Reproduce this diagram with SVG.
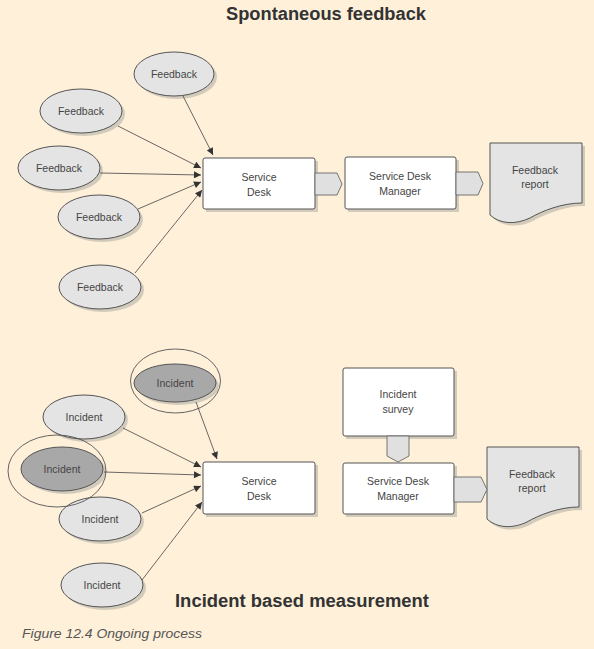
<svg xmlns="http://www.w3.org/2000/svg" width="594" height="649" viewBox="0 0 594 649">
<defs>
<marker id="ah" viewBox="0 0 10 10" refX="10" refY="5" markerWidth="8" markerHeight="7" markerUnits="userSpaceOnUse" orient="auto">
<path d="M0,0 L10,5 L0,10 Z" fill="#333"/>
</marker>
<style>
.bg{fill:#FEF0D9}
.ell{fill:#E4E4E4;stroke:#555;stroke-width:1}
.dark{fill:#A8A8A8;stroke:#555;stroke-width:1}
.ring{fill:none;stroke:#555;stroke-width:0.9}
.sh{fill:#BFB9AE;opacity:0.7}
.box{fill:#FFFFFF;stroke:#555;stroke-width:1}
.chev{fill:#E0E0E0;stroke:#666;stroke-width:0.9}
.doc{fill:#E4E4E4;stroke:#555;stroke-width:1}
.lbl{font-family:"Liberation Sans",Arial,sans-serif;font-size:10.5px;fill:#444;text-anchor:middle}
.ttl{font-family:"Liberation Sans",Arial,sans-serif;font-size:18px;font-weight:bold;fill:#333;text-anchor:middle}
.cap{font-family:"Liberation Sans",Arial,sans-serif;font-size:13px;font-style:italic;fill:#555}
.con{stroke:#444;stroke-width:0.8;fill:none;marker-end:url(#ah)}
</style>
</defs>
<rect class="bg" x="0" y="0" width="594" height="649"/>

<text class="ttl" x="326" y="20" textLength="200" lengthAdjust="spacingAndGlyphs">Spontaneous feedback</text>

<!-- Top section -->
<g id="fb1"><ellipse class="sh" cx="177" cy="77" rx="40" ry="22"/><ellipse class="ell" cx="174" cy="74" rx="40" ry="22"/><text class="lbl" x="174" y="78">Feedback</text></g>
<g id="fb2"><ellipse class="sh" cx="84" cy="114" rx="41" ry="22"/><ellipse class="ell" cx="81" cy="111" rx="41" ry="22"/><text class="lbl" x="81" y="115">Feedback</text></g>
<g id="fb3"><ellipse class="sh" cx="62" cy="171" rx="41" ry="22"/><ellipse class="ell" cx="59" cy="168" rx="41" ry="22"/><text class="lbl" x="59" y="172">Feedback</text></g>
<g id="fb4"><ellipse class="sh" cx="102" cy="220" rx="41" ry="22"/><ellipse class="ell" cx="99" cy="217" rx="41" ry="22"/><text class="lbl" x="99" y="221">Feedback</text></g>
<g id="fb5"><ellipse class="sh" cx="103" cy="290" rx="41" ry="22"/><ellipse class="ell" cx="100" cy="287" rx="41" ry="22"/><text class="lbl" x="100" y="291">Feedback</text></g>

<g id="sd1"><rect class="sh" x="206" y="161" width="112" height="51"/><rect class="box" x="203" y="158" width="112" height="51" rx="2"/><text class="lbl" x="259" y="181">Service</text><text class="lbl" x="259" y="196">Desk</text></g>
<g id="sdm1"><rect class="sh" x="348" y="160" width="111" height="52"/><rect class="box" x="345" y="157" width="111" height="52" rx="2"/><text class="lbl" x="400" y="180">Service Desk</text><text class="lbl" x="400" y="195">Manager</text></g>
<g id="rep1"><path class="sh" d="M493,146 H585 V206 C565,206 545,214 533,221 C518,228 503,227 493,218 Z"/><path class="doc" d="M490,143 H582 V203 C562,203 542,211 530,218 C515,225 500,224 490,215 Z"/><text class="lbl" x="535" y="174">Feedback</text><text class="lbl" x="535" y="188">report</text></g>

<g id="connectors-top">
<line class="con" x1="183" y1="96" x2="213" y2="155"/>
<line class="con" x1="118" y1="126" x2="201" y2="168"/>
<line class="con" x1="100" y1="173" x2="201" y2="175"/>
<line class="con" x1="138" y1="209" x2="201" y2="182"/>
<line class="con" x1="135" y1="273" x2="202" y2="190"/>
<path class="chev" d="M315,173 H337 L342,184 L337,195 H315 Z"/>
<path class="chev" d="M456,172 H478 L483,183.5 L478,195 H456 Z"/>
</g>

<!-- Bottom section -->
<g id="inc1"><ellipse class="ring" cx="175.5" cy="381" rx="45" ry="32"/><ellipse class="sh" cx="178" cy="386" rx="41" ry="19"/><ellipse class="dark" cx="175" cy="383" rx="41" ry="19"/><text class="lbl" x="175" y="387">Incident</text></g>
<g id="inc2"><ellipse class="sh" cx="87" cy="420" rx="41" ry="22"/><ellipse class="ell" cx="84" cy="417" rx="41" ry="22"/><text class="lbl" x="84" y="421">Incident</text></g>
<g id="inc4"><ellipse class="sh" cx="103" cy="522" rx="41" ry="22"/><ellipse class="ell" cx="100" cy="519" rx="41" ry="22"/><text class="lbl" x="100" y="523">Incident</text></g>
<g id="inc3"><ellipse class="sh" cx="65" cy="472" rx="41" ry="22"/><ellipse class="dark" cx="62" cy="469" rx="41" ry="22"/><ellipse class="ring" cx="57" cy="471" rx="49" ry="36"/><text class="lbl" x="62" y="473">Incident</text></g>
<g id="inc5"><ellipse class="sh" cx="105" cy="588" rx="41" ry="22"/><ellipse class="ell" cx="102" cy="585" rx="41" ry="22"/><text class="lbl" x="102" y="589">Incident</text></g>

<g id="sd2"><rect class="sh" x="206" y="465" width="112" height="52"/><rect class="box" x="203" y="462" width="112" height="52" rx="2"/><text class="lbl" x="259" y="485">Service</text><text class="lbl" x="259" y="500">Desk</text></g>
<g id="survey"><rect class="sh" x="346" y="371" width="111" height="68"/><rect class="box" x="343" y="368" width="111" height="68" rx="2"/><text class="lbl" x="398" y="398">Incident</text><text class="lbl" x="398" y="413">survey</text></g>
<g id="sdm2"><rect class="sh" x="346" y="466" width="111" height="51"/><rect class="box" x="343" y="463" width="111" height="51" rx="2"/><text class="lbl" x="398" y="485">Service Desk</text><text class="lbl" x="398" y="500">Manager</text></g>
<g id="rep2"><path class="sh" d="M490,450 H582 V510 C562,510 542,518 530,525 C515,532 500,531 490,522 Z"/><path class="doc" d="M487,447 H579 V507 C559,507 539,515 527,522 C512,529 497,528 487,519 Z"/><text class="lbl" x="532" y="478">Feedback</text><text class="lbl" x="532" y="492">report</text></g>

<g id="connectors-bottom">
<line class="con" x1="196" y1="402" x2="217" y2="459"/>
<line class="con" x1="123" y1="428" x2="201" y2="467"/>
<line class="con" x1="104" y1="472" x2="201" y2="475"/>
<line class="con" x1="142" y1="513" x2="201" y2="486"/>
<line class="con" x1="142" y1="580" x2="202" y2="502"/>
<path class="chev" d="M387,436 V456 L398,462 L409,456 V436 Z"/>
<path class="chev" d="M454,477 H481 L487,489.5 L481,502 H454 Z"/>
</g>

<text class="ttl" x="302" y="607" textLength="254" lengthAdjust="spacingAndGlyphs">Incident based measurement</text>
<text class="cap" x="22" y="638" textLength="180" lengthAdjust="spacingAndGlyphs">Figure 12.4 Ongoing process</text>
</svg>
